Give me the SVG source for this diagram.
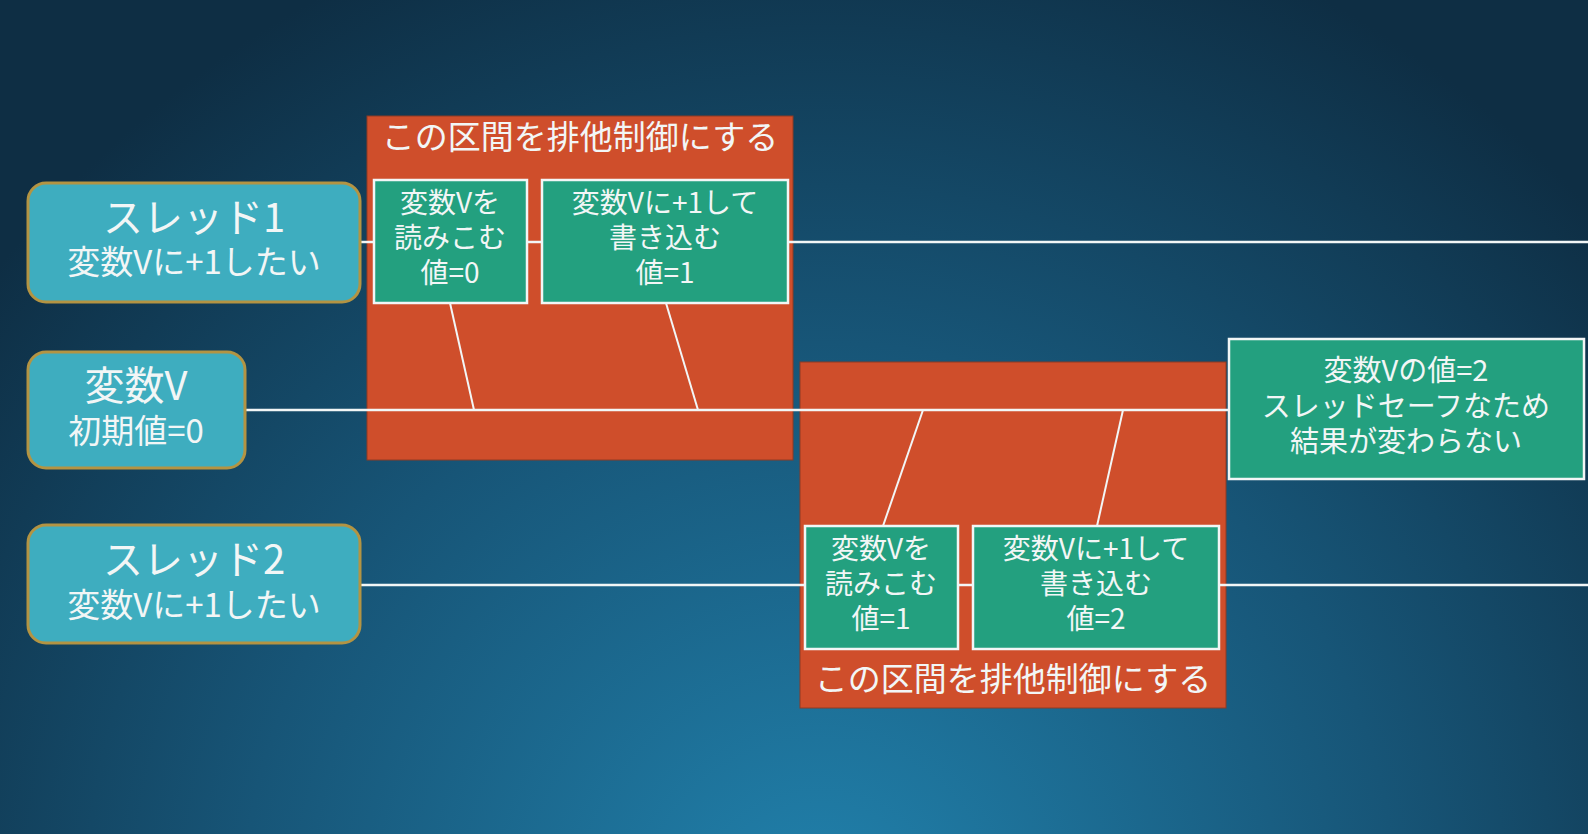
<svg xmlns="http://www.w3.org/2000/svg" width="1588" height="834" viewBox="0 0 1588 834">
<defs>
<radialGradient id="bg" gradientUnits="userSpaceOnUse" cx="820" cy="920" r="1050">
<stop offset="0" stop-color="#2182ad"/>
<stop offset="0.55" stop-color="#175577"/>
<stop offset="1" stop-color="#0e2e44"/>
</radialGradient>
<style>
.t{font-family:"Noto Sans CJK JP","Noto Sans",sans-serif;fill:#f2f6f6;text-anchor:middle}
.thread{fill:#3eadbf;stroke:#b39443;stroke-width:3}
.crit{fill:#cf4e2b;stroke:#8e3a24;stroke-width:1}
.step{fill:#23a07f;stroke:#f2f6f6;stroke-width:2.5}
.ln{stroke:#f2f6f6;stroke-width:2.5;fill:none}
.dg{stroke:#f2f6f6;stroke-width:2;fill:none}
</style>
</defs>
<rect width="1588" height="834" fill="url(#bg)"/>

<g id="critical1">
<rect class="crit" x="367" y="116" width="426" height="344"/>
<text class="t" x="580" y="149" font-size="33">この区間を排他制御にする</text>
</g>
<g id="critical2">
<rect class="crit" x="800" y="362" width="426" height="346"/>
<text class="t" x="1013" y="691" font-size="33">この区間を排他制御にする</text>
</g>

<g id="connectors">
<line class="ln" x1="360" y1="242" x2="374" y2="242"/>
<line class="ln" x1="527" y1="242" x2="542" y2="242"/>
<line class="ln" x1="788" y1="242" x2="1588" y2="242"/>
<line class="ln" x1="245" y1="410" x2="1229" y2="410"/>
<line class="ln" x1="361" y1="585" x2="805" y2="585"/>
<line class="ln" x1="958" y1="585" x2="973" y2="585"/>
<line class="ln" x1="1219" y1="585" x2="1588" y2="585"/>
<line class="dg" x1="450" y1="303" x2="474" y2="410"/>
<line class="dg" x1="666" y1="303" x2="698" y2="410"/>
<line class="dg" x1="923" y1="410" x2="883" y2="526"/>
<line class="dg" x1="1123" y1="410" x2="1097" y2="526"/>
</g>

<g id="thread1">
<rect class="thread" x="28" y="183" width="332" height="119" rx="18"/>
<text class="t" x="194" y="232" font-size="40">スレッド1</text>
<text class="t" x="194" y="274" font-size="33">変数Vに+1したい</text>
</g>
<g id="varV">
<rect class="thread" x="28" y="352" width="217" height="116" rx="18"/>
<text class="t" x="136" y="400" font-size="40">変数V</text>
<text class="t" x="136" y="443" font-size="33">初期値=0</text>
</g>
<g id="thread2">
<rect class="thread" x="28" y="525" width="332" height="118" rx="18"/>
<text class="t" x="194" y="574" font-size="40">スレッド2</text>
<text class="t" x="194" y="617" font-size="33">変数Vに+1したい</text>
</g>

<g id="read1">
<rect class="step" x="374" y="180" width="153" height="123"/>
<text class="t" x="450" y="213" font-size="28">変数Vを</text>
<text class="t" x="450" y="248" font-size="28">読みこむ</text>
<text class="t" x="450" y="283" font-size="28">値=0</text>
</g>
<g id="write1">
<rect class="step" x="542" y="180" width="246" height="123"/>
<text class="t" x="665" y="213" font-size="28">変数Vに+1して</text>
<text class="t" x="665" y="248" font-size="28">書き込む</text>
<text class="t" x="665" y="283" font-size="28">値=1</text>
</g>
<g id="read2">
<rect class="step" x="805" y="526" width="153" height="123"/>
<text class="t" x="881" y="559" font-size="28">変数Vを</text>
<text class="t" x="881" y="594" font-size="28">読みこむ</text>
<text class="t" x="881" y="629" font-size="28">値=1</text>
</g>
<g id="write2">
<rect class="step" x="973" y="526" width="246" height="123"/>
<text class="t" x="1096" y="559" font-size="28">変数Vに+1して</text>
<text class="t" x="1096" y="594" font-size="28">書き込む</text>
<text class="t" x="1096" y="629" font-size="28">値=2</text>
</g>
<g id="result">
<rect class="step" x="1229" y="339" width="355" height="140"/>
<text class="t" x="1406" y="381" font-size="29">変数Vの値=2</text>
<text class="t" x="1406" y="417" font-size="29">スレッドセーフなため</text>
<text class="t" x="1406" y="452" font-size="29">結果が変わらない</text>
</g>
</svg>
